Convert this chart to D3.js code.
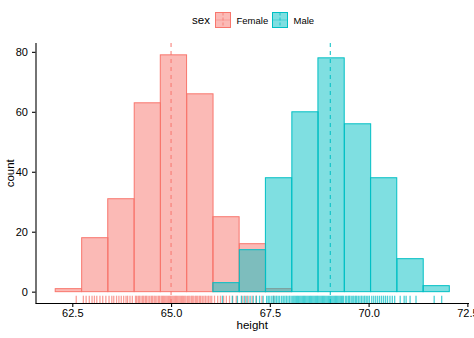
<!DOCTYPE html>
<html>
<head>
<meta charset="utf-8">
<script src="https://cdn.jsdelivr.net/npm/d3@7"></script>
<style>
  html, body { margin: 0; padding: 0; background: #fff; }
  svg { display: block; font-family: "Liberation Sans", Arial, Helvetica, sans-serif; }
</style>
</head>
<body>
<svg id="chart" width="474" height="338"></svg>
<script>
// ---- data ----
const groups = ["Female", "Male"];
const groupColors = ["#F8766D", "#00BFC4"];
const binCenters = [62.40, 63.07, 63.73, 64.40, 65.06, 65.73, 66.39, 67.06, 67.72, 68.39, 69.05, 69.72, 70.38, 71.05, 71.71];
const binWidth = 0.665;
const femaleCounts = [1, 18, 31, 63, 79, 66, 25, 16, 1, 0, 0, 0, 0, 0, 0];
const maleCounts   = [0, 0, 0, 0, 0, 0, 3, 14, 38, 60, 78, 56, 38, 11, 2];
const groupMeans = [65.0, 69.03];
const femaleRug = [62.6,
  62.78, 62.85, 62.93, 63.0, 63.06, 63.12, 63.2, 63.27, 63.35,
  63.43, 63.5, 63.55, 63.62, 63.68, 63.74, 63.8, 63.86, 63.9, 63.96, 64.02,
  64.1, 64.13, 64.17, 64.2, 64.24, 64.28, 64.31, 64.35, 64.38, 64.42, 64.46, 64.5, 64.53, 64.57, 64.6, 64.64, 64.68, 64.71,
  64.75, 64.78, 64.81, 64.84, 64.87, 64.9, 64.93, 64.96, 64.99, 65.02, 65.05, 65.08, 65.11, 65.14, 65.17, 65.2, 65.23, 65.26, 65.29, 65.32, 65.35, 65.38,
  65.42, 65.45, 65.48, 65.52, 65.55, 65.58, 65.62, 65.65, 65.68, 65.72, 65.75, 65.79, 65.83, 65.87, 65.91, 65.95, 65.99, 66.03,
  66.1, 66.18, 66.25, 66.33, 66.4, 66.48, 66.56, 66.65,
  66.8, 66.88, 66.95, 67.05, 67.15, 67.3,
  67.6];
const maleRug = [66.3, 66.55, 66.68,
  66.78, 66.85, 66.92, 67.0, 67.08, 67.16, 67.24, 67.33,
  67.42, 67.46, 67.5, 67.55, 67.59, 67.63, 67.67, 67.71, 67.75, 67.8, 67.84, 67.88, 67.92, 67.96, 68.0, 68.04,
  68.08, 68.11, 68.14, 68.17, 68.2, 68.23, 68.26, 68.29, 68.32, 68.35, 68.38, 68.41, 68.44, 68.47, 68.5, 68.53, 68.56, 68.59, 68.62, 68.65, 68.68, 68.71,
  68.74, 68.77, 68.8, 68.83, 68.86, 68.89, 68.92, 68.95, 68.98, 69.01, 69.04, 69.07, 69.1, 69.13, 69.16, 69.19, 69.22, 69.25, 69.28, 69.31, 69.34, 69.37,
  69.42, 69.45, 69.49, 69.52, 69.56, 69.6, 69.63, 69.67, 69.7, 69.74, 69.78, 69.82, 69.86, 69.9, 69.94, 69.98, 70.02,
  70.08, 70.13, 70.18, 70.23, 70.28, 70.33, 70.38, 70.43, 70.48, 70.54, 70.6, 70.66,
  70.8, 70.9, 70.95, 71.05, 71.2,
  71.66, 71.85];
const xTicks = [62.5, 65.0, 67.5, 70.0, 72.5];
const yTicks = [0, 20, 40, 60, 80];
const xTitle = "height";
const yTitle = "count";
const legendTitle = "sex";

// ---- layout ----
const svg = d3.select("#chart");
const panel = { left: 35.5, right: 469, top: 43, bottom: 303.5 };

const xMin = binCenters[0] - binWidth / 2;
const xMax = binCenters[binCenters.length - 1] + binWidth / 2;
const xPad = (xMax - xMin) * 0.05;
const x = d3.scaleLinear().domain([xMin - xPad, xMax + xPad]).range([panel.left, panel.right]);

const yMaxVal = d3.max(femaleCounts.concat(maleCounts));
const yPad = yMaxVal * 0.05;
const y = d3.scaleLinear().domain([-yPad, yMaxVal + yPad]).range([panel.bottom, panel.top]);

const countsByGroup = [femaleCounts, maleCounts];
const rugByGroup = [femaleRug, maleRug];

// bars (Female first, then Male on top)
groups.forEach((g, gi) => {
  const data = binCenters.map((c, i) => ({ c, n: countsByGroup[gi][i] }));
  svg.append("g").selectAll("rect").data(data).join("rect")
    .attr("x", d => x(d.c - binWidth / 2))
    .attr("width", d => x(d.c + binWidth / 2) - x(d.c - binWidth / 2))
    .attr("y", d => y(d.n))
    .attr("height", d => y(0) - y(d.n))
    .attr("fill", groupColors[gi])
    .attr("fill-opacity", 0.5)
    .attr("stroke", groupColors[gi])
    .attr("stroke-width", 1);
});

// rug
const rugLen = (panel.bottom - panel.top) * 0.03;
groups.forEach((g, gi) => {
  svg.append("g").selectAll("line").data(rugByGroup[gi]).join("line")
    .attr("x1", d => x(d)).attr("x2", d => x(d))
    .attr("y1", panel.bottom).attr("y2", panel.bottom - rugLen)
    .attr("stroke", groupColors[gi])
    .attr("stroke-opacity", 0.7)
    .attr("stroke-width", 1.3);
});

// mean lines
svg.append("g").selectAll("line").data(groupMeans).join("line")
  .attr("x1", d => x(d)).attr("x2", d => x(d))
  .attr("y1", panel.top).attr("y2", panel.bottom)
  .attr("stroke", (d, i) => groupColors[i])
  .attr("stroke-width", 1)
  .attr("stroke-dasharray", "4,4");

// axes
const xAxis = d3.axisBottom(x).tickValues(xTicks).tickFormat(d3.format(".1f")).tickSize(3.5).tickSizeOuter(0);
const gx = svg.append("g").attr("transform", `translate(0,${panel.bottom})`).call(xAxis);
gx.select(".domain").attr("d", `M${panel.left},0H${panel.right}`).attr("stroke", "#000").attr("stroke-width", 1.1);
gx.selectAll(".tick line").attr("stroke", "#000").attr("stroke-width", 1.1);
gx.selectAll(".tick text").attr("fill", "#000").attr("font-size", 11).attr("y", 5.5)
  .attr("font-family", "Liberation Sans, Arial, sans-serif");

const yAxis = d3.axisLeft(y).tickValues(yTicks).tickSize(3.5).tickSizeOuter(0);
const gy = svg.append("g").attr("transform", `translate(${panel.left},0)`).call(yAxis);
gy.select(".domain").attr("d", `M0.5,${panel.top}V${panel.bottom}`).attr("stroke", "#000").attr("stroke-width", 1.1);
gy.selectAll(".tick line").attr("stroke", "#000").attr("stroke-width", 1.1);
gy.selectAll(".tick text").attr("fill", "#000").attr("font-size", 11).attr("dx", "-0.1em")
  .attr("font-family", "Liberation Sans, Arial, sans-serif");

// axis titles
svg.append("text").attr("x", (panel.left + panel.right) / 2).attr("y", 329)
  .attr("text-anchor", "middle").attr("font-size", 11.5).text(xTitle);
svg.append("text").attr("transform", `translate(14,${(panel.top + panel.bottom) / 2}) rotate(-90)`)
  .attr("text-anchor", "middle").attr("font-size", 11.5).text(yTitle);

// legend
const lg = svg.append("g");
lg.append("text").attr("x", 192).attr("y", 23.5).attr("font-size", 11.5).text(legendTitle);
const keyX = [215.5, 272.5];
const labX = [236.5, 293.5];
groups.forEach((g, gi) => {
  const kx = keyX[gi], ky = 12.5, ks = 15;
  lg.append("rect").attr("x", kx).attr("y", ky).attr("width", ks).attr("height", ks)
    .attr("fill", groupColors[gi]).attr("fill-opacity", 0.5)
    .attr("stroke", groupColors[gi]).attr("stroke-width", 1);
  lg.append("line").attr("x1", kx + ks / 2).attr("x2", kx + ks / 2).attr("y1", ky).attr("y2", ky + ks)
    .attr("stroke", groupColors[gi]).attr("stroke-width", 0.8).attr("stroke-dasharray", "3,2");
  lg.append("line").attr("x1", kx).attr("x2", kx + ks).attr("y1", ky + ks / 2).attr("y2", ky + ks / 2)
    .attr("stroke", groupColors[gi]).attr("stroke-opacity", 0.5).attr("stroke-width", 0.8);
  lg.append("text").attr("x", labX[gi]).attr("y", 23.5).attr("font-size", 9.5).text(g);
});
</script>
</body>
</html>
